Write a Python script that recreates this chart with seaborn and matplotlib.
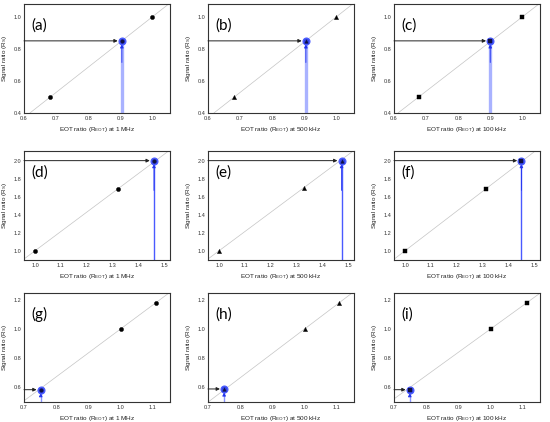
import numpy as np
import pandas as pd
import matplotlib
matplotlib.use("Agg")
import matplotlib.pyplot as plt
import seaborn as sns
from matplotlib.ticker import MultipleLocator, AutoMinorLocator, FormatStrFormatter

sns.set_style("white")
plt.rcParams['font.family'] = ['Liberation Sans', 'DejaVu Sans']
plt.rcParams['mathtext.default'] = 'regular'

# ---------------- data ----------------
panel_labels = ['(a)', '(b)', '(c)', '(d)', '(e)', '(f)', '(g)', '(h)', '(i)']
freq_labels = ['1 MHz', '500 kHz', '100 kHz']
markers = ['o', '^', 's']

# reference points (R_EOT, R_S) per panel
ref_x = [
    [0.682, 1.0], [0.682, 1.0], [0.677, 1.0],
    [1.0, 1.322], [1.0, 1.328], [1.0, 1.314],
    [1.0, 1.11], [1.0, 1.108], [1.0, 1.113],
]
ref_y = [
    [0.50, 1.00], [0.50, 1.00], [0.50, 1.00],
    [1.00, 1.69], [1.00, 1.70], [1.00, 1.69],
    [1.00, 1.18], [1.00, 1.18], [1.00, 1.18],
]
# highlighted (estimated) point
hl_x = [0.905, 0.905, 0.900, 1.460, 1.474, 1.450, 0.752, 0.750, 0.749]
hl_y = [0.85, 0.85, 0.85, 2.00, 2.00, 2.00, 0.585, 0.59, 0.585]

# axis settings per row
row_xlim = [(0.6, 1.055), (0.957, 1.522), (0.7, 1.153)]
row_ylim = [(0.4, 1.08), (0.897, 2.107), (0.501, 1.245)]
row_xstep = [0.1, 0.1, 0.1]
row_ystep = [0.2, 0.2, 0.2]
vline_lw = [2.4, 1.0, 1.0]
vline_color = ['#a9b2ff', '#4a5aff', '#8a96ff']

# ---------------- layout ----------------
W, H = 550, 422
fig = plt.figure(figsize=(W / 100, H / 100), dpi=100)
col_left = [24, 208, 394]
row_top = [4, 151, 293]
ax_w, ax_h = 146, 109

for i in range(9):
    r, c = divmod(i, 3)
    ax = fig.add_axes([col_left[c] / W, 1 - (row_top[r] + ax_h) / H, ax_w / W, ax_h / H])
    xlo, xhi = row_xlim[r]
    ylo, yhi = row_ylim[r]
    ax.set_xlim(xlo, xhi)
    ax.set_ylim(ylo, yhi)

    # diagonal calibration line through the reference points
    ax.axline((ref_x[i][0], ref_y[i][0]), (ref_x[i][1], ref_y[i][1]),
              color='#c4c4c4', lw=0.5, zorder=1)

    # horizontal black arrow from y-axis to point
    ax.annotate('', xy=(hl_x[i], hl_y[i]), xytext=(xlo, hl_y[i]),
                arrowprops=dict(arrowstyle='-|>', color='#222222', lw=0.7,
                                mutation_scale=5, shrinkA=0, shrinkB=3),
                zorder=3)
    # vertical blue arrow from x-axis to point
    ax.plot([hl_x[i], hl_x[i]], [ylo, hl_y[i]], color=vline_color[r],
            lw=vline_lw[r], zorder=2, solid_capstyle='butt')
    ax.annotate('', xy=(hl_x[i], hl_y[i]), xytext=(hl_x[i], ylo + (hl_y[i] - ylo) * 0.7),
                arrowprops=dict(arrowstyle='-|>', color='#2233ee', lw=0.6,
                                mutation_scale=5, shrinkA=0, shrinkB=2.5),
                zorder=3)

    df = pd.DataFrame({'x': ref_x[i], 'y': ref_y[i]})
    sns.scatterplot(data=df, x='x', y='y', marker=markers[c], color='black',
                    s=9, edgecolor='black', linewidth=0.3, ax=ax, zorder=4)
    dh = pd.DataFrame({'x': [hl_x[i]], 'y': [hl_y[i]]})
    sns.scatterplot(data=dh, x='x', y='y', marker='o', s=24, facecolor='#3446e8',
                    edgecolor='#4b5cff', linewidth=0.9, ax=ax, zorder=5)
    sns.scatterplot(data=dh, x='x', y='y', marker=markers[c], s=7, color='#101040',
                    edgecolor='#101040', linewidth=0.2, ax=ax, zorder=6)

    ax.xaxis.set_major_locator(MultipleLocator(row_xstep[r]))
    ax.yaxis.set_major_locator(MultipleLocator(row_ystep[r]))
    ax.xaxis.set_minor_locator(AutoMinorLocator(2))
    ax.yaxis.set_minor_locator(AutoMinorLocator(2))
    ax.tick_params(which='both', direction='in', labelsize=4, pad=2,
                   colors='#333333', width=0.5)
    ax.tick_params(which='major', length=2.2)
    ax.tick_params(which='minor', length=1.2)
    ax.xaxis.set_major_formatter(FormatStrFormatter('%.1f'))
    ax.yaxis.set_major_formatter(FormatStrFormatter('%.1f'))
    for s in ax.spines.values():
        s.set_color('#333333')
        s.set_linewidth(0.8)

    ax.set_xlabel(f'EOT ratio (R$_{{EOT}}$) at {freq_labels[c]}', fontsize=4.6,
                  labelpad=3, color='#222222')
    ax.set_ylabel('Signal ratio (R$_S$)', fontsize=4.6, labelpad=3, color='#222222')
    ax.text(0.05, 0.8, panel_labels[i], transform=ax.transAxes, fontsize=11,
            family=['Lato', 'DejaVu Sans'], ha='left', va='center', color='black')

fig.savefig('out.png', dpi=100, facecolor='white')
